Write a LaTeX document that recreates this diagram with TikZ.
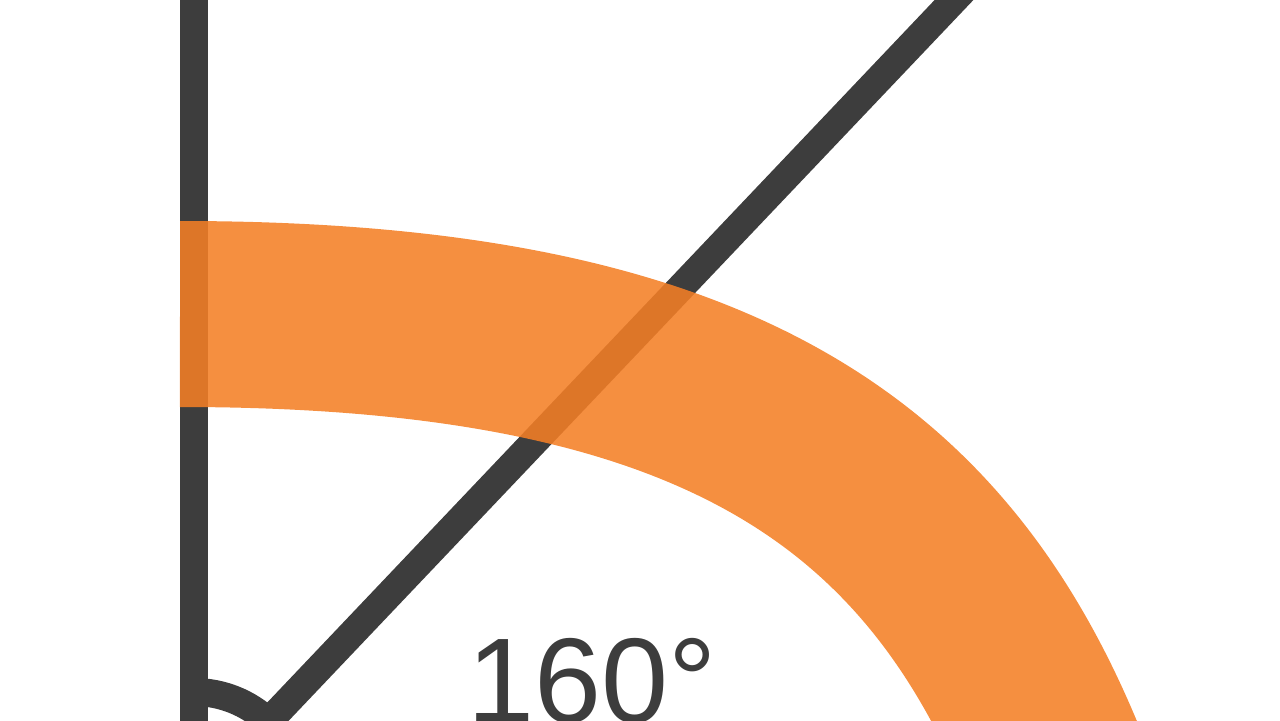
\documentclass[tikz,border=0pt]{standalone}
\usepackage{fontspec}
\setmainfont{Liberation Sans}
\definecolor{anglegray}{RGB}{61,61,61}
\definecolor{bandorange}{RGB}{244,127,38}
\usepackage{tikz}
\usetikzlibrary{calc}

\begin{document}
\begin{tikzpicture}[x=0.1mm, y=0.1mm, every node/.style={font=\fontsize{34.3}{40}\selectfont, text=anglegray}]
    \useasboundingbox (0,0) rectangle (1280,720);
    \clip (0,0) rectangle (1280,720);

    % Vertex and arms
    \coordinate (vertex) at (194,-80);
    \coordinate (armup) at (194,760);
    \coordinate (armdiag) at (1030,800);
    \draw[anglegray, line width=8pt] (vertex) -- (armup);
    \draw[anglegray, line width=8pt] (vertex) -- (armdiag);

    % Orange band
    \coordinate (bandstart) at (180,406);
    \coordinate (bandend) at (1068,-80);
    \draw[bandorange, opacity=0.88, line width=18.6mm, line cap=butt]
        (bandstart) .. controls (730,406) and (950,240) .. (bandend);

    % Angle mark
    \draw[anglegray, line width=8pt] ($(vertex)+(90:108)$) arc[start angle=90, end angle=46.5, radius=108];

    % Label
    \node[anchor=base, inner sep=0pt] (lbl) at (592,-2) {160°};
\end{tikzpicture}
\end{document}
